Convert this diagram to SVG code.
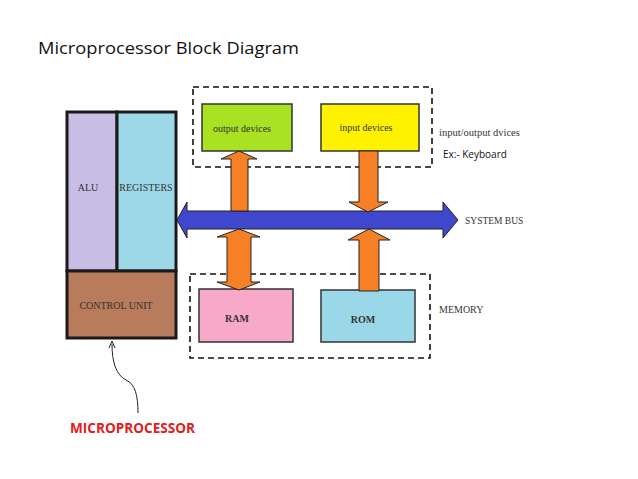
<svg xmlns="http://www.w3.org/2000/svg" width="638" height="479" viewBox="0 0 638 479">
<style>
.blk{stroke:#1a1a1a;stroke-width:3}
.box{stroke:#333;stroke-width:1.5}
.dash{fill:none;stroke:#111;stroke-width:1.6;stroke-dasharray:6,4}
.ser{font-family:"Liberation Serif","DejaVu Serif",serif;fill:#333}
.arr{fill:#f58026;stroke:#222;stroke-width:1}
</style>
<rect width="638" height="479" fill="#fff"/>
<text x="38" y="54" font-family="Open Sans,Liberation Sans,Arial,sans-serif" font-size="16.5" fill="#111" textLength="261" lengthAdjust="spacingAndGlyphs">Microprocessor Block Diagram</text>

<g id="microprocessor">
<g id="alu"><rect x="67" y="112" width="50" height="159" fill="#c8bde4" class="blk"/><text x="88" y="191" class="ser" font-size="10" text-anchor="middle">ALU</text></g>
<g id="registers"><rect x="117" y="112" width="59" height="159" fill="#9dd8e9" class="blk"/><text x="146" y="191" class="ser" font-size="10" text-anchor="middle">REGISTERS</text></g>
<g id="control-unit"><rect x="67" y="271" width="109" height="67" fill="#b87b5b" class="blk"/><text x="116" y="309" class="ser" font-size="10" text-anchor="middle">CONTROL UNIT</text></g>
</g>

<g id="io-devices">
<rect x="193" y="87" width="239" height="80" class="dash"/>
<text x="439" y="136" class="ser" font-size="10.5">input/output dvices</text>
<text x="443" y="158" font-family="Open Sans,Liberation Sans,Arial,sans-serif" font-size="10" fill="#111">Ex:- Keyboard</text>
</g>
<g id="output-devices"><rect x="202" y="104" width="90" height="47" fill="#a9e123" class="box"/><text x="242" y="132" class="ser" font-size="10" text-anchor="middle">output devices</text></g>
<g id="input-devices"><rect x="321" y="104" width="98" height="47" fill="#fff200" class="box"/><text x="366" y="131" class="ser" font-size="10" text-anchor="middle">input devices</text></g>

<g id="memory">
<rect x="190" y="274" width="240" height="84" class="dash"/>
<text x="439" y="313" class="ser" font-size="10">MEMORY</text>
</g>
<g id="ram"><rect x="199" y="289" width="94" height="53" fill="#f8a9c9" class="box"/><text x="237" y="322" class="ser" font-size="10" font-weight="bold" text-anchor="middle" fill="#222">RAM</text></g>
<g id="rom"><rect x="321" y="290" width="94" height="52" fill="#9ad8e9" class="box"/><text x="363" y="323" class="ser" font-size="10" font-weight="bold" text-anchor="middle" fill="#222">ROM</text></g>

<g id="system-bus">
<path d="M177,220 L187,202 L187,211 L443,211 L443,202 L458,220 L443,238 L443,229 L187,229 L187,238 Z" fill="#3f48cc" stroke="#222" stroke-width="1"/>
<text x="465" y="224" class="ser" font-size="9.5">SYSTEM BUS</text>
</g>

<g id="connectors">
<path class="arr" d="M239,151 L257,159 L248,159 L248,211 L231,211 L231,159 L221,159 Z"/>
<path class="arr" d="M368,212 L388,202 L378,202 L378,151 L359,151 L359,202 L349,202 Z"/>
<path class="arr" d="M239,229 L260,237 L251,237 L251,282 L260,282 L239,290 L217,282 L227,282 L227,237 L217,237 Z"/>
<path class="arr" d="M369,229 L390,240 L379,240 L379,291 L359,291 L359,240 L348,240 Z"/>
<path d="M138,413 C138,395 135,384 126,380 C116,375 112,362 112,344" fill="none" stroke="#222" stroke-width="1"/>
<path d="M109,348 L112,341 L115,348" fill="none" stroke="#222" stroke-width="1"/>
</g>
<text x="70" y="433" font-family="Open Sans,Liberation Sans,Arial,sans-serif" font-size="13.5" font-weight="bold" fill="#e02020" textLength="125" lengthAdjust="spacingAndGlyphs">MICROPROCESSOR</text>
</svg>
